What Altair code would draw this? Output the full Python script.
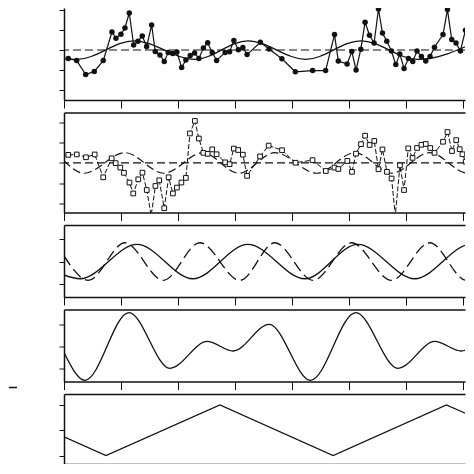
import altair as alt
import pandas as pd

# ---------------- data ----------------
X_DOMAIN = [0, 70.4]
X_TICKS = [0, 10, 20, 30, 40, 50, 60, 70]

# Panel 1: observations (filled circles) and fitted cycle
t1 = [0.75, 2.23, 3.81, 5.32, 6.89, 8.42, 9.12, 10.0, 10.70, 11.46, 12.23, 12.98, 13.74,
      14.51, 15.39, 16.02, 16.84, 17.60, 18.30, 19.07, 19.82, 20.65, 21.40, 22.16, 22.93,
      23.68, 24.47, 25.23, 26.02, 26.79, 28.30, 29.07, 29.82, 30.61, 31.40, 32.14, 34.47,
      36.0, 38.25, 40.61, 43.65, 45.93, 47.49, 48.16, 49.70, 50.53, 51.28, 52.11, 52.86,
      53.63, 54.44, 55.21, 55.91, 56.67, 57.49, 58.25, 58.95, 59.70, 60.47, 61.23, 61.98,
      62.75, 63.51, 64.26, 65.04, 66.54, 67.32, 68.07, 68.82, 69.60, 70.47, 71.23, 72.3]
v1 = [-0.42, -0.53, -1.23, -1.07, -0.53, 0.90, 0.59, 0.79, 1.10, 1.85, 0.25, 0.44, 0.70,
      0.17, 1.25, -0.07, -0.25, -0.57, -0.13, -0.18, -0.10, -0.87, -0.50, -0.27, -0.15,
      -0.42, 0.10, 0.36, -0.13, -0.52, -0.13, -0.09, 0.47, 0.01, 0.12, -0.23, 0.39,
      0.05, -0.44, -1.09, -1.03, -1.03, 0.77, -0.55, -0.70, -0.08, -1.00, 0.04, 1.39,
      0.74, 0.35, 2.05, 0.85, 0.44, -0.05, -0.73, -0.20, -0.92, -0.43, -0.57, -0.05,
      -0.33, -0.55, -0.33, 0.14, 0.77, 2.02, 0.52, 0.35, -0.05, 0.99, 0.37, 0.40]
f1_t = [0, 2.28, 12.28, 22.98, 32.28, 42.46, 52.11, 62.11, 72.8]
f1_v = [-0.44, -0.47, 0.46, -0.47, 0.46, -0.47, 0.46, -0.47, 0.46]

# Panel 2: observations (open squares) and fitted cycle
t2 = [0.75, 2.23, 3.86, 5.39, 6.89, 8.37, 9.07, 9.88, 10.53, 11.49, 12.16, 13.04, 13.77,
      14.53, 15.30, 16.05, 16.72, 17.60, 18.37, 19.12, 19.82, 20.61, 21.40, 22.11, 22.98,
      23.68, 24.47, 25.23, 26.02, 26.79, 28.30, 29.07, 29.82, 30.58, 31.40, 32.14, 34.42,
      35.93, 38.28, 40.65, 43.63, 45.96, 47.49, 48.16, 49.74, 50.56, 51.26, 52.14, 52.86,
      53.65, 54.47, 55.21, 55.91, 56.70, 57.51, 58.16, 58.98, 59.70, 60.44, 61.19, 61.98,
      62.75, 63.51, 64.30, 65.05, 66.54, 67.33, 68.11, 68.86, 69.47, 69.95, 70.53, 71.23]
v2 = [0.40, 0.42, 0.28, 0.42, -0.71, 0.23, -0.01, -0.23, -0.49, -0.97, -1.51, -0.81, -0.48,
      -1.34, -2.6, -1.14, -0.86, -2.24, -0.71, -1.51, -1.22, -0.97, -0.74, 1.46, 2.08,
      1.21, 0.50, 0.45, 0.67, 0.43, 0.03, -0.06, 0.71, 0.64, 0.41, -0.64, 0.32,
      0.86, 0.63, 0.01, 0.14, -0.40, -0.23, -0.30, 0.10, -0.44, 0.46, 0.93, 1.35,
      0.89, 1.09, -0.31, 0.67, -0.44, -0.77, -2.6, -0.12, -1.34, 0.72, 0.25, 0.74,
      0.90, 0.94, 0.74, 0.50, 1.05, 1.53, 0.59, 1.13, 0.68, 0.43, 0.06, 0.38]
f2_t = [0, 3.51, 10.70, 17.54, 24.39, 30.70, 37.02, 44.39, 51.05, 57.54, 64.21, 70.88, 72.0]
f2_v = [0.10, -0.51, 0.51, -0.51, 0.51, -0.51, 0.51, -0.51, 0.51, -0.51, 0.51, -0.51, -0.47]

# Panel 3: two cycles (solid and dashed)
s3_t = [0, 2.81, 12.81, 22.63, 32.28, 42.28, 51.58, 61.58, 71.4, 72.5]
s3_v = [-0.60, -0.77, 0.77, -0.77, 0.77, -0.77, 0.77, -0.77, 0.77, 0.74]
d3_t = [0, 4.26, 10.70, 17.42, 23.86, 30.88, 37.02, 43.74, 50.47, 57.49, 64.21, 70.65, 72.0]
d3_v = [0.25, -0.84, 0.84, -0.84, 0.84, -0.84, 0.84, -0.84, 0.84, -0.84, 0.84, -0.84, -0.72]

# Panel 4: combined signal
c4_t = [0, 3.68, 11.40, 18.60, 25.14, 29.70, 36.02, 43.28, 51.23, 58.65, 65.09, 69.77, 72.0]
c4_v = [-0.27, -1.52, 1.53, -0.98, 0.23, -0.20, 1.00, -1.52, 1.53, -0.98, 0.23, -0.20, 0.10]

# Panel 5: triangle wave
c5_t = [0, 7.37, 27.37, 47.25, 67.14, 72.0]
c5_v = [-0.26, -1.0, 1.0, -1.0, 1.0, 0.52]

W = 401
INK = "#111111"


def df(t, v):
    return pd.DataFrame({"t": t, "v": v})


def X(axis):
    return alt.X("t:Q", scale=alt.Scale(domain=X_DOMAIN, nice=False, zero=False), axis=axis)


def bottom_axis(ticks=True):
    return alt.Axis(orient="bottom", values=X_TICKS, tickSize=8, labels=False,
                    title=None, grid=False, domain=True, ticks=ticks)


def top_axis():
    return alt.Axis(orient="top", labels=False, ticks=False, title=None, grid=False, domain=True)


def Y(dom, ticks):
    return alt.Y("v:Q", scale=alt.Scale(domain=dom, nice=False, zero=False),
                 axis=alt.Axis(orient="left", values=ticks, tickSize=5, labels=False,
                               title=None, grid=False))


def line(t, v, dom, ticks, axis=None, dash=None, interp="monotone", sw=1.2, opacity=1):
    kw = dict(color=INK, strokeWidth=sw, clip=True, interpolate=interp, opacity=opacity)
    if dash:
        kw["strokeDash"] = dash
    return alt.Chart(df(t, v)).mark_line(**kw).encode(x=X(axis), y=Y(dom, ticks))


def zero_rule(dom, ticks):
    return alt.Chart(pd.DataFrame({"v": [0]})).mark_rule(
        color=INK, strokeWidth=1.2, strokeDash=[8, 4]).encode(y=Y(dom, ticks))


tk5 = [-2, -1, 0, 1, 2]
tk3 = [-1, 0, 1]

# ---- panel 1
d1 = [-2.5, 2.1]
p1 = alt.layer(
    zero_rule(d1, tk5),
    line(f1_t, f1_v, d1, tk5, axis=None, sw=1.3),
    line(t1, v1, d1, tk5, axis=bottom_axis(), interp="linear", sw=1.2),
    alt.Chart(df(t1, v1)).mark_circle(color=INK, size=30, opacity=1, clip=True).encode(
        x=X(None), y=Y(d1, tk5)),
).resolve_axis(x="independent").properties(width=W, height=92)

# ---- panel 2
d2 = [-2.453, 2.4975]
p2 = alt.layer(
    zero_rule(d2, tk5),
    line(f2_t, f2_v, d2, tk5, axis=None, dash=[8, 4], sw=1.2),
    line(t2, v2, d2, tk5, axis=bottom_axis(), interp="linear", dash=[5, 2], sw=1.0),
    alt.Chart(df(t2, v2)).transform_filter("datum.v > -2.4").mark_square(
        fill="white", stroke=INK, strokeWidth=1, size=22, opacity=1, clip=True).encode(
        x=X(None), y=Y(d2, tk5)),
    line(t2, v2, d2, tk5, axis=top_axis(), opacity=0),
).resolve_axis(x="independent").properties(width=W, height=100)

# ---- panel 3
d3 = [-1.586, 1.635]
p3 = alt.layer(
    line(s3_t, s3_v, d3, tk3, axis=bottom_axis(), sw=1.3),
    line(d3_t, d3_v, d3, tk3, axis=None, dash=[11, 5], sw=1.3),
    line(s3_t, s3_v, d3, tk3, axis=top_axis(), opacity=0),
).resolve_axis(x="independent").properties(width=W, height=72)

# ---- panel 4
d4 = [-1.574, 1.669]
p4 = alt.layer(
    line(c4_t, c4_v, d4, tk3, axis=bottom_axis(), sw=1.3),
    line(c4_t, c4_v, d4, tk3, axis=top_axis(), opacity=0),
).resolve_axis(x="independent").properties(width=W, height=72)

# ---- panel 5 (plus the short stray dash at the far left of the figure)
d5 = [-1.334, 1.433]
p5 = alt.layer(
    line(c5_t, c5_v, d5, tk3, axis=bottom_axis(ticks=False), interp="linear", sw=1.3),
    line(c5_t, c5_v, d5, tk3, axis=top_axis(), opacity=0),
    alt.Chart(pd.DataFrame({"v": [0]})).mark_rule(color=INK, strokeWidth=1.5).encode(
        x=alt.value(-55.25), x2=alt.value(-47), y=alt.value(-6.5)),
).resolve_axis(x="independent").properties(width=W, height=70)

chart = alt.vconcat(p1, p2, p3, p4, p5, spacing=12.5, bounds="flush").properties(
    padding={"left": 0, "top": 0, "right": 0, "bottom": 0}
).configure_view(stroke=None).configure_axis(
    domainColor=INK, domainWidth=1.5, tickColor=INK, tickWidth=1
)

chart.save("out.html", embed_options={"renderer": "svg", "actions": False})
